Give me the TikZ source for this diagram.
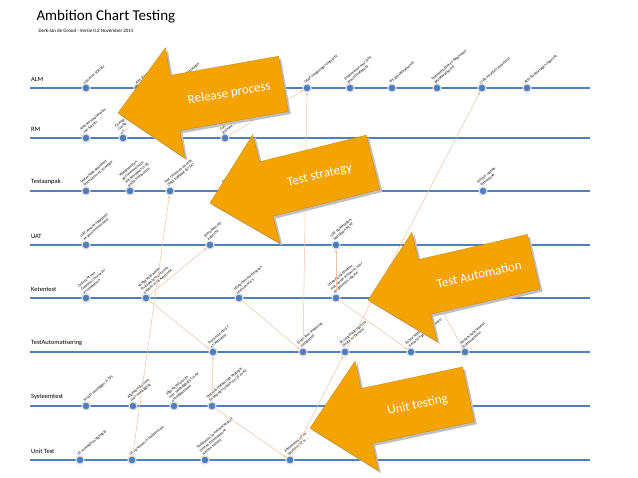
\documentclass[tikz,border=0pt]{standalone}
\usepackage{fontspec}
\setmainfont{Carlito}
\usetikzlibrary{arrows.meta}
\definecolor{lineblue}{HTML}{4F7FBD}
\definecolor{dotblue}{HTML}{4A7EC0}
\definecolor{peach}{HTML}{F0C2A0}
\definecolor{orng}{HTML}{F5A300}
\tikzset{
  lane/.style={draw=lineblue,line width=1.3pt},
  lanelabel/.style={anchor=south west,font=\fontsize{6.5}{7}\selectfont,inner sep=1pt},
  dot/.style={circle,fill=dotblue,draw=gray!30,line width=1.2pt,minimum size=8pt,inner sep=0pt},
  lbl/.style={anchor=south west,rotate=40,font=\fontsize{3.8}{4.4}\selectfont,align=left,inner sep=0.5pt,xshift=1pt,yshift=3pt},
  dep/.style={draw=peach,line width=0.5pt,-{Stealth[length=3pt,width=2.5pt]}},
  blockarrow/.style={fill=orng,draw=orng!80!black,line width=0.3pt},
  arrowtext/.style={text=white,font=\fontsize{13}{13}\selectfont}
}
\newcommand{\blockarr}[5]{%
  \begin{scope}[shift={(#1)},rotate=#2]
    \fill[black!25,shift={(2,3)}] (0,0) -- (58,-56) -- (58,-28) -- (#3,-28) -- (#3,28) -- (58,28) -- (58,56) -- cycle;
    \path[blockarrow] (0,0) -- (58,-56) -- (58,-28) -- (#3,-28) -- (#3,28) -- (58,28) -- (58,56) -- cycle;
    \node[arrowtext,rotate=#2] (#5) at ({(58+#3)/2},0) {#4};
  \end{scope}}
\begin{document}
\begin{tikzpicture}[x=1pt,y=-1pt]
\useasboundingbox (0,0) rectangle (638,478);
\node[anchor=west,font=\fontsize{15}{15}\selectfont] (title) at (33,17) {Ambition Chart Testing};
\node[anchor=west,font=\fontsize{5}{5}\selectfont] (sub) at (35,31) {Derk-Jan de Grood - Versie 0.2 November 2015};
% lanes
\foreach \n/\y/\t in {alm/88/ALM,rm/138/RM,ta/191/Testaanpak,uat/245/UAT,kt/298/Ketentest,tau/352/TestAutomatisering,st/406/Systeemtest,ut/460/Unit Test}{
  \coordinate (\n s) at (30,\y);
  \coordinate (\n e) at (590,\y);
  \draw[lane] (\n s) -- (\n e);
  \node[lanelabel] (\n lab) at (30,\y-5) {\t};
}
% ALM
\foreach \i/\x/\t in {1/86/Invoeren SCRUM,2/138/Alle Source Code in TFS,3/178/Branching Strategie,4/228/Build server ingericht,5/307/OTAP omgevingen ingericht,6/350/{Deployment naar OTA\\geautomatiseerd},7/392/TFS geoptimaliseerd,8/437/{Testmethodiek en Registratie\\geoptimaliseerd},9/482/Code kwaliteit verbeterd,10/527/ALM Rapportages ingericht}{
  \node[dot] (alm\i) at (\x,88) {};
  \node[lbl] (alml\i) at (alm\i.center) {\t};}
% RM
\foreach \i/\x/\t in {1/86/{Release stappenplan\\van Sprints},2/123/{Change en\\Config\\en ...},3/225/{Continue\\Release ...}}{
  \node[dot] (rm\i) at (\x,138) {};
  \node[lbl] (rml\i) at (rm\i.center) {\t};}
% Testaanpak
\foreach \i/\x/\t in {1/86/{Testaanpak definieert\\Testsoorten en strategie},2/130/{Vastgesteld en\\gecommuniceerd\\wie betrokken is bij\\welke testsoorten},3/170/{Test resources op orde\\(Stip) ingepast (bv TA)},4/228/{Defect management\\ingericht},5/483/{Revisie update\\Testaanpak}}{
  \node[dot] (ta\i) at (\x,191) {};
  \node[lbl] (tal\i) at (ta\i.center) {\t};}
% UAT
\foreach \i/\x/\t in {1/86/{UAT aanpak opgesteld\\en gecommuniceerd},2/210/{Betrokken PO\\ingericht},3/336/{UAT stakeholders\\betrokken bij KT}}{
  \node[dot] (uat\i) at (\x,245) {};
  \node[lbl] (uatl\i) at (uat\i.center) {\t};}
% Ketentest
\foreach \i/\x/\t in {1/86/{Overzicht met\\Customer Journeys/\\Procesketens},2/146/{Vastgesteld welke\\Procesketens prioriteit\\hebben in de Ketentest},3/239/{Uitwerken eerste keten\\testscenario's},4/336/{Uitwerken ketentest\\met eerste scenario's voor\\aangewezen release},5/435/{Ketentest\\uitgevoerd}}{
  \node[dot] (kt\i) at (\x,298) {};
  \node[lbl] (ktl\i) at (kt\i.center) {\t};}
% TestAutomatisering
\foreach \i/\x/\t in {1/213/{Tool keuze tbv ST\\en Ketentest},2/303/{Eisen Test omgeving\\vastgesteld},3/345/{TA omgeving ingericht\\(Stubs en Drivers)},4/411/{Eerste keten\\scenario's geautomatiseerd},5/465/{Verdere Ketentesten\\Automatiseren}}{
  \node[dot] (tau\i) at (\x,352) {};
  \node[lbl] (taul\i) at (tau\i.center) {\t};}
% Systeemtest
\foreach \i/\x/\t in {1/86/Scripts vastleggen in TFS,2/133/{Afgestemd proces\\over vastlegging},3/174/{Afgestemd proces\\over vastlegging ST in de\\ontwikkelteams},4/212/{Testautomatiserings strategie\\En bepalen relatie tot UT en KT}}{
  \node[dot] (st\i) at (\x,406) {};
  \node[lbl] (stl\i) at (st\i.center) {\t};}
% Unit Test
\foreach \i/\x/\t in {1/80/UT strategie vastgesteld,2/132/UT opnemen in buildprocess,3/205/{Verbeteren Samenwerking UT\\(test en Development\\werken samen)},4/290/{Afstemmen UT en\\opnemen ST in ...}}{
  \node[dot] (ut\i) at (\x,460) {};
  \node[lbl] (utl\i) at (ut\i.center) {\t};}
% dependencies
\draw[dep] (rm3) -- (alm5);
\draw[dep] (kt2) -- (uat2);
\draw[dep] (ut2) -- (ta3);
\draw[dep] (kt2) -- (tau1);
\draw[dep] (kt3) -- (tau2);
\draw[dep] (st4) -- (tau1);
\draw[dep] (st4) -- (ut4);
\draw[dep] (tau2) -- (alm5);
\draw[dep] (ut4) -- (tau3);
\draw[dep] (tau3) -- (alm9);
\draw[dep] (kt4) -- (uat3);
\draw[dep] (kt4) -- (tau4);
\draw[dep] (kt5) -- (tau5);
% block arrows
\blockarr{118,113}{10}{168}{Release process}{a1}
\blockarr{210,203}{14}{168}{Test strategy}{a2}
\blockarr{368,300}{13}{170}{Test Automation}{a3}
\blockarr{310,428}{12}{162}{Unit testing}{a4}
\end{tikzpicture}
\end{document}
